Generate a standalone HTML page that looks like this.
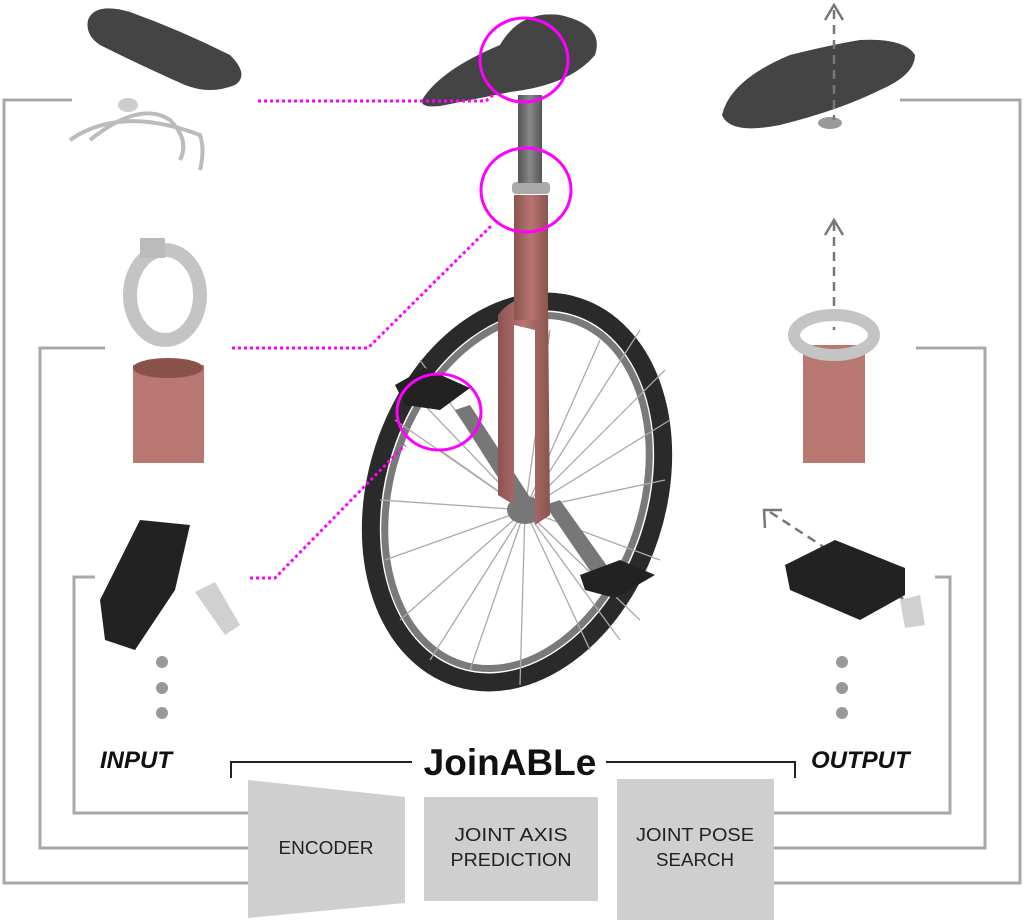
<!DOCTYPE html>
<html><head><style>
body{margin:0;background:#fff;}
svg{display:block;}
text{font-family:"Liberation Sans",sans-serif;}
</style></head><body>
<svg width="1024" height="920" viewBox="0 0 1024 920" xmlns="http://www.w3.org/2000/svg">
<defs>
<linearGradient id="red" x1="0" x2="1"><stop offset="0" stop-color="#8a5450"/><stop offset="0.5" stop-color="#b87470"/><stop offset="1" stop-color="#8a5450"/></linearGradient>
<linearGradient id="post" x1="0" x2="1"><stop offset="0" stop-color="#555"/><stop offset="0.5" stop-color="#888"/><stop offset="1" stop-color="#555"/></linearGradient>
</defs>
<g fill="none" stroke="#a8a8a8" stroke-width="3">
<polyline points="72,100 4,100 4,883 248,883"/>
<polyline points="105,348 40,348 40,848 248,848"/>
<polyline points="95,577 74,577 74,813 248,813"/>
<polyline points="900,100 1020,100 1020,883 774,883"/>
<polyline points="916,348 985,348 985,848 774,848"/>
<polyline points="935,577 950,577 950,813 774,813"/>
</g>
<g fill="none" stroke="#222" stroke-width="2">
<polyline points="231,778 231,762 412,762"/>
<polyline points="606,762 795,762 795,778"/>
</g>
<text x="510" y="775" text-anchor="middle" font-size="37" font-weight="bold" fill="#111">JoinABLe</text>
<text x="100" y="768" font-size="24" font-weight="bold" font-style="italic" fill="#111">INPUT</text>
<text x="811" y="768" font-size="24" font-weight="bold" font-style="italic" fill="#111">OUTPUT</text>
<polygon points="248,780 405,797 405,903 248,918" fill="#cfcfcf"/>
<rect x="424" y="797" width="174" height="104" fill="#cfcfcf"/>
<rect x="617" y="779" width="157" height="141" fill="#cfcfcf"/>
<g font-size="18" fill="#222" text-anchor="middle">
<text x="326" y="854" textLength="95" lengthAdjust="spacingAndGlyphs">ENCODER</text>
<text x="511" y="841" textLength="113" lengthAdjust="spacingAndGlyphs">JOINT AXIS</text>
<text x="511" y="866" textLength="121" lengthAdjust="spacingAndGlyphs">PREDICTION</text>
<text x="695" y="841" textLength="118" lengthAdjust="spacingAndGlyphs">JOINT POSE</text>
<text x="695" y="866" textLength="78" lengthAdjust="spacingAndGlyphs">SEARCH</text>
</g>
<!-- wheel -->
<g transform="rotate(18 517 492)">
<ellipse cx="517" cy="492" rx="140" ry="195" fill="none" stroke="#2a2a2a" stroke-width="18"/>
<ellipse cx="517" cy="492" rx="126" ry="181" fill="none" stroke="#7a7a7a" stroke-width="7"/>
</g>
<g stroke="#aaa" stroke-width="1.3">
<line x1="525" y1="510" x2="420" y2="360"/><line x1="525" y1="510" x2="640" y2="330"/>
<line x1="525" y1="510" x2="400" y2="620"/><line x1="525" y1="510" x2="660" y2="560"/>
<line x1="525" y1="510" x2="380" y2="500"/><line x1="525" y1="510" x2="670" y2="420"/>
<line x1="525" y1="510" x2="470" y2="670"/><line x1="525" y1="510" x2="590" y2="650"/>
<line x1="525" y1="510" x2="550" y2="330"/><line x1="525" y1="510" x2="600" y2="340"/>
<line x1="525" y1="510" x2="640" y2="620"/><line x1="525" y1="510" x2="395" y2="420"/>
<line x1="525" y1="510" x2="430" y2="660"/><line x1="525" y1="510" x2="665" y2="480"/>
<line x1="525" y1="510" x2="385" y2="560"/><line x1="525" y1="510" x2="410" y2="390"/>
<line x1="525" y1="510" x2="620" y2="640"/><line x1="525" y1="510" x2="665" y2="370"/>
<line x1="525" y1="510" x2="440" y2="450"/><line x1="525" y1="510" x2="520" y2="685"/>
</g>
<ellipse cx="525" cy="510" rx="18" ry="14" fill="#777"/>
<polygon points="455,410 470,405 535,505 520,512" fill="#777"/>
<polygon points="545,505 560,500 610,570 595,578" fill="#777"/>
<polygon points="395,385 425,368 470,388 440,410 405,405" fill="#222"/>
<polygon points="580,575 620,560 655,575 615,598 585,590" fill="#222"/>
<path d="M498,315 Q515,292 548,298 L550,515 L535,525 L535,330 L514,325 L514,505 L498,495 Z" fill="url(#red)"/>
<rect x="514" y="195" width="34" height="125" fill="url(#red)"/>
<rect x="512" y="182" width="38" height="12" rx="4" fill="#aaa"/>
<rect x="518" y="95" width="24" height="88" fill="url(#post)"/>
<path d="M422,100 Q440,70 500,45 Q520,10 560,15 Q605,25 595,55 Q570,85 510,92 Q470,100 440,106 Q420,108 422,100 Z" fill="#444"/>
<g fill="none" stroke="#f0f" stroke-width="3">
<ellipse cx="524" cy="60" rx="44" ry="42"/>
<ellipse cx="526" cy="190" rx="45" ry="42"/>
<ellipse cx="439" cy="412" rx="42" ry="38"/>
</g>
<g fill="none" stroke="#f0f" stroke-width="3" stroke-dasharray="3,3">
<polyline points="258,101 486,101 494,94"/>
<polyline points="232,348 368,348 492,225"/>
<polyline points="250,578 275,578 405,445"/>
</g>
<!-- left parts -->
<path d="M88,20 Q95,2 130,12 Q180,30 230,55 Q250,75 235,85 Q210,95 185,85 Q140,65 100,45 Q85,35 88,20 Z" fill="#444"/>
<g fill="none" stroke="#bbb" stroke-width="4">
<path d="M70,140 Q120,105 200,135 Q205,150 200,170"/>
<path d="M90,140 Q140,100 170,120 Q190,140 180,160"/>
</g>
<ellipse cx="128" cy="105" rx="10" ry="7" fill="#ccc"/>
<ellipse cx="165" cy="295" rx="35" ry="45" fill="none" stroke="#c4c4c4" stroke-width="14"/>
<rect x="140" y="238" width="25" height="20" fill="#bbb"/>
<rect x="133" y="365" width="71" height="98" fill="#b97771"/>
<ellipse cx="168" cy="368" rx="35" ry="10" fill="#8a504c"/>
<polygon points="100,600 140,520 190,525 175,590 135,650 105,640" fill="#222"/>
<polygon points="195,592 215,582 240,625 225,635" fill="#d0d0d0"/>
<g fill="#999"><circle cx="162" cy="662" r="6"/><circle cx="162" cy="688" r="6"/><circle cx="162" cy="713" r="6"/></g>
<!-- right parts -->
<path d="M722,115 Q730,80 790,55 Q830,45 860,40 Q905,38 915,55 Q915,75 880,90 Q840,110 780,125 Q730,135 722,115 Z" fill="#444"/>
<ellipse cx="830" cy="123" rx="12" ry="6" fill="#999"/>
<g fill="none" stroke="#777" stroke-width="2.5" stroke-dasharray="9,6">
<line x1="834" y1="10" x2="834" y2="120"/>
<line x1="834" y1="222" x2="834" y2="330"/>
<line x1="770" y1="512" x2="905" y2="600"/>
</g>
<g fill="none" stroke="#777" stroke-width="2.5">
<polyline points="825,20 834,5 843,20"/>
<polyline points="825,235 834,220 843,235"/>
<polyline points="765,528 764,510 782,510"/>
</g>
<rect x="803" y="345" width="62" height="118" fill="#b97771"/>
<ellipse cx="834" cy="335" rx="40" ry="20" fill="none" stroke="#c4c4c4" stroke-width="12"/>
<polygon points="785,565 835,540 905,568 905,595 860,620 790,590" fill="#222"/>
<polygon points="900,600 920,595 925,625 905,628" fill="#d0d0d0"/>
<g fill="#999"><circle cx="842" cy="662" r="6"/><circle cx="842" cy="688" r="6"/><circle cx="842" cy="713" r="6"/></g>
</svg>
</body></html>
